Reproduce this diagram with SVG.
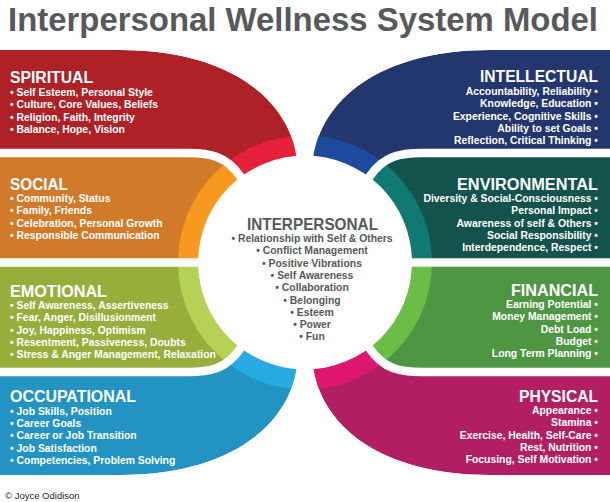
<svg xmlns="http://www.w3.org/2000/svg" width="610" height="502" viewBox="0 0 610 502">
<style>
.t{font-family:"Liberation Sans",Arial,sans-serif;font-weight:bold}
.h{font-size:16px;fill:#fff}
.i{font-size:10.4px;fill:#fff}
.r{text-anchor:end}
.c{text-anchor:middle;fill:#58595B}
.gap{stroke:#fff;stroke-width:8.5;fill:none}
.wf{fill:#fff}
</style>
<rect width="610" height="502" fill="#fff"/>
<g id="title">
<text class="t" x="8" y="31" font-size="33" fill="#58595B" textLength="590" lengthAdjust="spacingAndGlyphs">Interpersonal Wellness System Model</text>
</g>
<g id="spiritual">
<path d="M0,50 H120 C230,50 290,100 297,160 L305,262.5 L0,262.5 Z" fill="#AD2127"/>
<path d="M228.75,160.94 A127,127 0 0 1 305,135.5 L305,155.5 A107,107 0 0 0 240.76,176.93 Z" fill="#E4203B"/>
<text class="t h" x="10" y="83" textLength="83" lengthAdjust="spacingAndGlyphs">SPIRITUAL</text>
<text class="t i" x="10" y="96">• Self Esteem, Personal Style</text>
<text class="t i" x="10" y="108.3">• Culture, Core Values, Beliefs</text>
<text class="t i" x="10" y="120.6">• Religion, Faith, Integrity</text>
<text class="t i" x="10" y="132.9">• Balance, Hope, Vision</text>
</g>
<g id="intellectual">
<path d="M610,50 H490 C380,50 320,100 313,160 L305,262.5 L610,262.5 Z" fill="#24366E"/>
<path d="M305,135.5 A127,127 0 0 1 381.25,160.94 L369.24,176.93 A107,107 0 0 0 305,155.5 Z" fill="#1E4A9C"/>
<text class="t h r" x="598" y="82.3" textLength="118" lengthAdjust="spacingAndGlyphs">INTELLECTUAL</text>
<text class="t i r" x="598" y="95">Accountability, Reliability •</text>
<text class="t i r" x="598" y="107.3">Knowledge, Education •</text>
<text class="t i r" x="598" y="119.6">Experience, Cognitive Skills •</text>
<text class="t i r" x="598" y="131.9">Ability to set Goals •</text>
<text class="t i r" x="598" y="144.2">Reflection, Critical Thinking •</text>
</g>
<g id="occupational">
<path d="M0,475 H120 C230,475 290,425 297,365 L305,262.5 L0,262.5 Z" fill="#2393C3"/>
<path d="M305,389.5 A127,127 0 0 1 228.75,364.06 L240.76,348.07 A107,107 0 0 0 305,369.5 Z" fill="#27AAE1"/>
<text class="t h" x="10" y="402" textLength="126" lengthAdjust="spacingAndGlyphs">OCCUPATIONAL</text>
<text class="t i" x="10" y="414.7">• Job Skills, Position</text>
<text class="t i" x="10" y="427">• Career Goals</text>
<text class="t i" x="10" y="439.3">• Career or Job Transition</text>
<text class="t i" x="10" y="451.6">• Job Satisfaction</text>
<text class="t i" x="10" y="464">• Competencies, Problem Solving</text>
</g>
<g id="physical">
<path d="M610,475 H490 C380,475 320,425 313,365 L305,262.5 L610,262.5 Z" fill="#B21E62"/>
<path d="M381.25,364.06 A127,127 0 0 1 305,389.5 L305,369.5 A107,107 0 0 0 369.24,348.07 Z" fill="#DD176F"/>
<text class="t h r" x="598" y="401.7" textLength="79" lengthAdjust="spacingAndGlyphs">PHYSICAL</text>
<text class="t i r" x="598" y="414">Appearance •</text>
<text class="t i r" x="598" y="426.3">Stamina •</text>
<text class="t i r" x="598" y="438.6">Exercise, Health, Self-Care •</text>
<text class="t i r" x="598" y="450.9">Rest, Nutrition •</text>
<text class="t i r" x="598" y="463.2">Focusing, Self Motivation •</text>
</g>
<g id="social">
<path d="M0,153 H188 C210,153 226,156 240,176 L305,262.5 L0,262.5 Z" fill="#D17A2A"/>
<path d="M178,262.5 A127,127 0 0 1 228.75,160.94 L240.76,176.93 A107,107 0 0 0 198,262.5 Z" fill="#F7981F"/>
<text class="t h" x="10" y="190" textLength="58" lengthAdjust="spacingAndGlyphs">SOCIAL</text>
<text class="t i" x="10" y="202">• Community, Status</text>
<text class="t i" x="10" y="214.3">• Family, Friends</text>
<text class="t i" x="10" y="226.6">• Celebration, Personal Growth</text>
<text class="t i" x="10" y="238.9">• Responsible Communication</text>
</g>
<g id="environmental">
<path d="M610,153 H422 C400,153 384,156 370,176 L305,262.5 L610,262.5 Z" fill="#14524C"/>
<path d="M381.25,160.94 A127,127 0 0 1 432,262.5 L412,262.5 A107,107 0 0 0 369.24,176.93 Z" fill="#107A72"/>
<text class="t h r" x="598" y="190" textLength="141" lengthAdjust="spacingAndGlyphs">ENVIRONMENTAL</text>
<text class="t i r" x="598" y="202">Diversity &amp; Social-Consciousness •</text>
<text class="t i r" x="598" y="214.3">Personal Impact •</text>
<text class="t i r" x="598" y="226.6">Awareness of self &amp; Others •</text>
<text class="t i r" x="598" y="238.9">Social Responsibility •</text>
<text class="t i r" x="598" y="251.2">Interdependence, Respect •</text>
</g>
<g id="emotional">
<path d="M0,372 H188 C210,372 226,369 240,349 L305,262.5 L0,262.5 Z" fill="#98AE3C"/>
<path d="M228.75,364.06 A127,127 0 0 1 178,262.5 L198,262.5 A107,107 0 0 0 240.76,348.07 Z" fill="#B5D156"/>
<text class="t h" x="10" y="296.7" textLength="97" lengthAdjust="spacingAndGlyphs">EMOTIONAL</text>
<text class="t i" x="10" y="309">• Self Awareness, Assertiveness</text>
<text class="t i" x="10" y="321.3">• Fear, Anger, Disillusionment</text>
<text class="t i" x="10" y="333.6">• Joy, Happiness, Optimism</text>
<text class="t i" x="10" y="345.9">• Resentment, Passiveness, Doubts</text>
<text class="t i" x="10" y="358.2">• Stress &amp; Anger Management, Relaxation</text>
</g>
<g id="financial">
<path d="M610,372 H422 C400,372 384,369 370,349 L305,262.5 L610,262.5 Z" fill="#4F9644"/>
<path d="M432,262.5 A127,127 0 0 1 381.25,364.06 L369.24,348.07 A107,107 0 0 0 412,262.5 Z" fill="#6ABD46"/>
<text class="t h r" x="598" y="295.7" textLength="87" lengthAdjust="spacingAndGlyphs">FINANCIAL</text>
<text class="t i r" x="598" y="308">Earning Potential •</text>
<text class="t i r" x="598" y="320.3">Money Management •</text>
<text class="t i r" x="598" y="332.6">Debt Load •</text>
<text class="t i r" x="598" y="344.9">Budget •</text>
<text class="t i r" x="598" y="357.2">Long Term Planning •</text>
</g>
<g id="connectors">
<path class="gap" d="M-5,153 H188 C210,153 226,156 240,176 L305,262.5"/>
<path class="gap" d="M615,153 H422 C400,153 384,156 370,176 L305,262.5"/>
<path class="gap" d="M-5,372 H188 C210,372 226,369 240,349 L305,262.5"/>
<path class="gap" d="M615,372 H422 C400,372 384,369 370,349 L305,262.5"/>
<path class="gap" d="M-5,262.5 H615"/>
<path class="wf" d="M120,50 C230,50 290,100 297,160 L305,262.5 L313,160 C320,100 380,50 490,50 Z"/>
<path class="wf" d="M120,475 C230,475 290,425 297,365 L305,262.5 L313,365 C320,425 380,475 490,475 Z"/>
</g>
<g id="interpersonal">
<circle cx="305" cy="262.5" r="107" fill="#fff"/>
<text class="t c" x="312.5" y="230" font-size="17" textLength="131" lengthAdjust="spacingAndGlyphs">INTERPERSONAL</text>
<text class="t c" x="312" y="242" font-size="10.4">• Relationship with Self &amp; Others</text>
<text class="t c" x="312" y="254.3" font-size="10.4">• Conflict Management</text>
<text class="t c" x="312" y="266.6" font-size="10.4">• Positive Vibrations</text>
<text class="t c" x="312" y="278.9" font-size="10.4">• Self Awareness</text>
<text class="t c" x="312" y="291.2" font-size="10.4">• Collaboration</text>
<text class="t c" x="312" y="303.5" font-size="10.4">• Belonging</text>
<text class="t c" x="312" y="315.8" font-size="10.4">• Esteem</text>
<text class="t c" x="312" y="328.1" font-size="10.4">• Power</text>
<text class="t c" x="312" y="340.4" font-size="10.4">• Fun</text>
</g>
<g id="copyright">
<text x="5" y="499" font-family="Liberation Sans, Arial, sans-serif" font-size="9.5" fill="#231F20">© Joyce Odidison</text>
</g>
</svg>
